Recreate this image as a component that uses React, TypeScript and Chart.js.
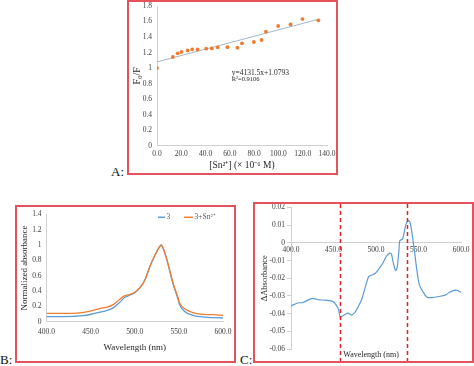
import React, { useEffect, useRef } from "react";
import { Chart, registerables } from "chart.js";

Chart.register(...registerables);

const SERIF = '"Liberation Serif", "Times New Roman", serif';
const BORDER = "2px solid #e5525b";
const BLUE = "#5B9BD5";
const ORANGE = "#ED7D31";
const AXIS = "#d0d0d0";
const TICK = "#404040";
const TITLE = "#262626";

// ---------- Panel A: F0/F vs [Sn2+] ----------
const concA = [0, 13.1, 17, 20.2, 25.2, 29, 33.4, 40.5, 45.1, 50, 58, 66.2, 70, 79.8, 86.1, 89.7, 99.8, 110, 119.8, 132.9];
const ratioA = [1.0, 1.143, 1.19, 1.207, 1.228, 1.241, 1.241, 1.25, 1.254, 1.267, 1.27, 1.263, 1.319, 1.336, 1.362, 1.469, 1.542, 1.563, 1.632, 1.615];
const fitSlopeA = 4131.5; // per M
const fitInterceptA = 1.0793;
const fitEndsA = [0, 132.9]; // µM
const fitLabelA = "y=4131.5x+1.0793";
const r2LabelA = "R\u00B2=0.9106";
const xTitleA = "[Sn\u00B2\u207A] (\u00D7 10\u207B\u2076 M)";
const yTitleA = "F\u2080/F";

// ---------- Panel B: normalized absorbance ----------
const wavelengthsB = [400, 430, 442, 453, 461, 468, 476, 483, 489, 495, 500, 506, 512, 517, 523, 527, 530, 532, 536, 540, 544, 548, 551, 557, 565, 574, 589, 600];
const abs3 = [0.065, 0.07, 0.078, 0.104, 0.126, 0.143, 0.183, 0.253, 0.318, 0.348, 0.378, 0.443, 0.557, 0.717, 0.87, 0.957, 1.0, 0.96, 0.826, 0.645, 0.47, 0.335, 0.218, 0.13, 0.087, 0.065, 0.052, 0.048];
const abs3Sn = [0.109, 0.109, 0.122, 0.148, 0.174, 0.187, 0.226, 0.292, 0.339, 0.357, 0.383, 0.443, 0.557, 0.717, 0.87, 0.957, 1.0, 0.96, 0.826, 0.652, 0.478, 0.348, 0.24, 0.166, 0.122, 0.1, 0.091, 0.083];
const seriesNamesB = ["3", "3+Sn\u00B2\u207A"];

// ---------- Panel C: difference spectrum ----------
const wavelengthsC = [400, 408, 414, 424, 430, 433, 441, 449, 453, 456, 458, 461, 465, 467, 471, 475, 478, 483, 487, 491, 493, 496, 500, 504, 508, 512, 516, 518, 520, 523, 525, 527, 528, 531, 533, 535, 538, 540, 542, 545, 548, 551, 555, 560, 566, 574, 582, 586, 592, 596, 600];
const deltaC = [-0.0356, -0.034, -0.0337, -0.0315, -0.0318, -0.0322, -0.0324, -0.0331, -0.035, -0.0379, -0.042, -0.0412, -0.0401, -0.0397, -0.0408, -0.0394, -0.0369, -0.0322, -0.0256, -0.0194, -0.0186, -0.018, -0.0168, -0.0143, -0.0115, -0.0077, -0.0058, -0.0062, -0.0106, -0.0156, -0.0134, -0.004, 0.0013, 0.0021, 0.0055, 0.0102, 0.0126, 0.0115, 0.0064, -0.004, -0.0153, -0.0237, -0.0275, -0.0307, -0.0309, -0.0303, -0.0294, -0.0281, -0.0269, -0.0269, -0.0281];
const markerLinesC = [458, 537];

const fixY = (w: number) => (s: any) => {
  s.width = w;
  s.paddingTop = 0; s.paddingBottom = 0; s.paddingLeft = 0; s.paddingRight = 0;
};
const fixX = (h: number) => (s: any) => {
  s.height = h;
  s.paddingTop = 0; s.paddingBottom = 0; s.paddingLeft = 0; s.paddingRight = 0;
};
const font = (size: number) => ({ family: SERIF, size });
const fmt1 = (v: any) => Number(Number(v).toFixed(1)).toFixed(1);
const fmtG = (d: number) => (v: any) => String(Number(Number(v).toFixed(d)) || 0);

function configA(): any {
  const pts = concA.map((x, i) => ({ x, y: ratioA[i] }));
  const fit = fitEndsA.map((x) => ({ x, y: fitSlopeA * x * 1e-6 + fitInterceptA }));
  const eqPlugin = {
    id: "eqA",
    afterDatasetsDraw(chart: any) {
      const { ctx, scales } = chart;
      const x = scales.x.getPixelForValue(61.5);
      ctx.save();
      ctx.fillStyle = TITLE;
      ctx.textBaseline = "middle";
      ctx.textAlign = "left";
      ctx.font = `7.5px ${SERIF}`;
      ctx.fillText(fitLabelA, x, scales.y.getPixelForValue(0.94));
      ctx.font = `6.5px ${SERIF}`;
      ctx.fillText(r2LabelA, x, scales.y.getPixelForValue(0.855));
      ctx.restore();
    },
  };
  return {
    type: "scatter",
    data: {
      datasets: [
        { type: "line", data: fit, borderColor: "#a3b6cc", borderWidth: 1, pointRadius: 0, fill: false, order: 1 },
        { data: pts, backgroundColor: ORANGE, borderColor: ORANGE, pointRadius: 1.9, pointBorderWidth: 0, order: 0 },
      ],
    },
    options: {
      responsive: false,
      animation: false,
      devicePixelRatio: 1,
      layout: { padding: { left: 0, top: 4, right: 9, bottom: 0 } },
      plugins: { legend: { display: false }, tooltip: { enabled: false } },
      scales: {
        x: {
          type: "linear", min: 0, max: 140,
          afterFit: fixX(27.3),
          grid: { display: false, drawTicks: false },
          border: { color: AXIS, width: 1 },
          ticks: { stepSize: 20, padding: 4, font: font(7.5), color: TICK, callback: fmt1, maxRotation: 0 },
          title: { display: true, text: xTitleA, font: font(9.5), color: TITLE, padding: { top: 0, bottom: 2.3 } },
        },
        y: {
          type: "linear", min: 0, max: 1.8,
          afterFit: fixY(28),
          grid: { display: false, drawTicks: false },
          border: { color: AXIS, width: 1 },
          ticks: { stepSize: 0.2, padding: 5, font: font(7.5), color: TICK, callback: fmtG(1) },
          title: { display: true, text: yTitleA, font: font(10), color: TITLE, padding: { top: 2, bottom: 0 } },
        },
      },
    },
    plugins: [eqPlugin],
  };
}

function configB(): any {
  const legendPlugin = {
    id: "legB",
    afterDraw(chart: any) {
      const { ctx, chartArea } = chart;
      const yy = chartArea.top + 3;
      const items = [
        { label: seriesNamesB[0], color: BLUE, x: chartArea.right - 65, len: 7 },
        { label: seriesNamesB[1], color: ORANGE, x: chartArea.right - 39, len: 9 },
      ];
      ctx.save();
      ctx.font = `7.5px ${SERIF}`;
      ctx.textBaseline = "middle";
      ctx.textAlign = "left";
      for (const it of items) {
        ctx.strokeStyle = it.color;
        ctx.lineWidth = 1.5;
        ctx.beginPath();
        ctx.moveTo(it.x, yy);
        ctx.lineTo(it.x + it.len, yy);
        ctx.stroke();
        ctx.fillStyle = "#595959";
        ctx.fillText(it.label, it.x + it.len + 1.5, yy);
      }
      ctx.restore();
    },
  };
  return {
    type: "line",
    data: {
      datasets: [
        { label: seriesNamesB[0], data: wavelengthsB.map((x, i) => ({ x, y: abs3[i] })), borderColor: BLUE, borderWidth: 1.3, pointRadius: 0, cubicInterpolationMode: "monotone", order: 1 },
        { label: seriesNamesB[1], data: wavelengthsB.map((x, i) => ({ x, y: abs3Sn[i] })), borderColor: ORANGE, borderWidth: 1.3, pointRadius: 0, cubicInterpolationMode: "monotone", order: 0 },
      ],
    },
    options: {
      responsive: false,
      animation: false,
      devicePixelRatio: 1,
      layout: { padding: { left: 0, top: 7.3, right: 11, bottom: 0 } },
      plugins: { legend: { display: false }, tooltip: { enabled: false } },
      scales: {
        x: {
          type: "linear", min: 400, max: 600,
          afterFit: fixX(39.3),
          grid: { display: false, drawTicks: false },
          border: { color: AXIS, width: 1 },
          ticks: { stepSize: 50, padding: 5.5, font: font(7.5), color: TICK, callback: fmt1, maxRotation: 0 },
          title: { display: true, text: "Wavelength (nm)", font: font(9), color: TITLE, padding: { top: 0, bottom: 7.6 } },
        },
        y: {
          type: "linear", min: 0, max: 1.4,
          afterFit: fixY(29.5),
          grid: { display: false, drawTicks: false },
          border: { color: AXIS, width: 1 },
          ticks: { stepSize: 0.2, padding: 5, font: font(7.5), color: TICK, callback: fmtG(1) },
          title: { display: true, text: "Normalized absorbance", font: font(9), color: TITLE, padding: { top: 2.6, bottom: 0 } },
        },
      },
    },
    plugins: [legendPlugin],
  };
}

function configC(): any {
  const overlay = {
    id: "ovC",
    afterDraw(chart: any) {
      const { ctx, chartArea, scales } = chart;
      ctx.save();
      ctx.strokeStyle = "#e0202c";
      ctx.lineWidth = 1.5;
      ctx.setLineDash([4, 3]);
      for (const w of markerLinesC) {
        const px = Math.round(scales.x.getPixelForValue(w)) + 0.5;
        ctx.beginPath();
        ctx.moveTo(px, 0);
        ctx.lineTo(px, chart.height);
        ctx.stroke();
      }
      ctx.setLineDash([]);
      ctx.fillStyle = TITLE;
      ctx.font = `8px ${SERIF}`;
      ctx.textAlign = "center";
      ctx.textBaseline = "middle";
      ctx.fillText("Wavelength (nm)", (chartArea.left + chartArea.right) / 2 - 5, chart.height - 6);
      ctx.restore();
    },
  };
  return {
    type: "line",
    data: {
      datasets: [
        { data: wavelengthsC.map((x, i) => ({ x, y: deltaC[i] })), borderColor: BLUE, borderWidth: 1.2, pointRadius: 0, tension: 0.3 },
      ],
    },
    options: {
      responsive: false,
      animation: false,
      devicePixelRatio: 1,
      layout: { padding: { left: 0, top: 3.5, right: 10, bottom: 12 } },
      plugins: { legend: { display: false }, tooltip: { enabled: false } },
      scales: {
        x: {
          type: "linear", min: 400, max: 600,
          position: { y: 0 },
          grid: { display: false, drawTicks: false },
          border: { color: AXIS, width: 1 },
          ticks: { stepSize: 50, padding: 2.5, font: font(7.5), color: TICK, callback: fmt1, maxRotation: 0 },
        },
        y: {
          type: "linear", min: -0.06, max: 0.02,
          afterFit: fixY(36),
          grid: { display: true, drawOnChartArea: false, drawTicks: true, tickLength: 4, color: AXIS },
          border: { color: AXIS, width: 1 },
          ticks: { stepSize: 0.01, padding: 2, font: font(7.5), color: TICK, callback: fmtG(2) },
          title: { display: true, text: "\u0394Absorbance", font: font(8.5), color: TITLE, padding: { top: 4.5, bottom: 0 } },
        },
      },
    },
    plugins: [overlay],
  };
}

function ChartCanvas({ width, height, make }: { width: number; height: number; make: () => any }) {
  const ref = useRef<HTMLCanvasElement | null>(null);
  useEffect(() => {
    const chart = new Chart(ref.current as HTMLCanvasElement, make());
    return () => chart.destroy();
  }, []);
  return <canvas ref={ref} width={width} height={height} style={{ display: "block", width, height }} />;
}

function Panel({ left, top, width, height, make }: any) {
  return (
    <div style={{ position: "absolute", left, top, width, height, border: BORDER, background: "#fff" }}>
      <ChartCanvas width={width} height={height} make={make} />
    </div>
  );
}

const labelStyle = (left: number, top: number): React.CSSProperties => ({
  position: "absolute", left, top, fontFamily: SERIF, fontSize: 13, lineHeight: "15px", color: "#111",
});

export default function App() {
  return (
    <div style={{ position: "absolute", left: 0, top: 0, width: 474, height: 366, overflow: "hidden", background: "#fff" }}>
      <Panel left={127} top={0} width={207} height={171} make={configA} />
      <Panel left={15} top={205} width={217} height={154} make={configB} />
      <Panel left={253} top={202} width={217} height={157} make={configC} />
      <div style={labelStyle(111, 164)}>A:</div>
      <div style={labelStyle(0, 352)}>B:</div>
      <div style={labelStyle(240, 352)}>C:</div>
    </div>
  );
}
